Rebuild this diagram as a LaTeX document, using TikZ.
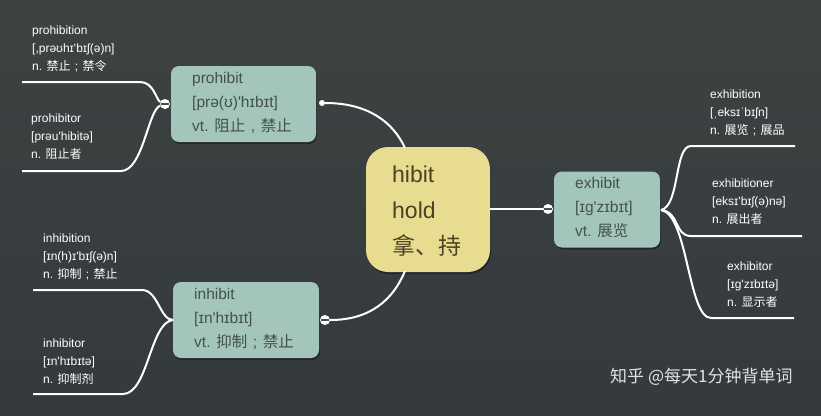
\documentclass[tikz,border=0pt]{standalone}
\usepackage{fontspec}
\setmainfont{Liberation Sans}[Ligatures=TeXOff]
\newfontfamily\cjk{Noto Sans CJK SC}
\usetikzlibrary{shadows}
\definecolor{bgtop}{HTML}{3D4342}
\definecolor{bgbot}{HTML}{34393D}
\definecolor{boxteal}{HTML}{A3C5BC}
\definecolor{boxtxt}{HTML}{44514D}
\definecolor{hubfill}{HTML}{E7DC8F}
\definecolor{hubtxt}{HTML}{4A4222}
\definecolor{knobbar}{HTML}{4A5050}
\newcommand\fsemi{\makebox[1em][c]{;}}
\newcommand\fcomma{\makebox[1em][c]{,}}
\tikzset{
  box/.style={fill=boxteal, draw=none, rounded corners=8pt, inner sep=0pt,
    drop shadow={shadow xshift=1pt, shadow yshift=-2pt, opacity=0.35, fill=black}},
  hub/.style={fill=hubfill, draw=none, rounded corners=22pt, inner sep=0pt,
    minimum width=124pt, minimum height=125pt,
    drop shadow={shadow xshift=1pt, shadow yshift=-2pt, opacity=0.35, fill=black}},
  boxtext/.style={anchor=west, align=left, inner sep=0pt, text=boxtxt,
    font=\fontsize{15.5}{24}\selectfont},
  hubtext/.style={anchor=west, align=left, inner sep=0pt, text=hubtxt,
    font=\fontsize{23}{36}\selectfont},
  leaf/.style={anchor=west, align=left, inner sep=0pt, text=white,
    font=\fontsize{12}{18}\selectfont},
  wire/.style={draw=white, line width=2pt},
  knob/.style={circle, fill=white, draw=none, inner sep=0pt, minimum size=10pt,
    path picture={\draw[knobbar, line width=1.2pt]
      ([xshift=1pt]path picture bounding box.west) -- ([xshift=-1pt]path picture bounding box.east);}},
  dot/.style={circle, fill=white, draw=none, inner sep=0pt, minimum size=6pt},
}
\begin{document}
\begin{tikzpicture}[x=1pt,y=-1pt]
\useasboundingbox (0,0) rectangle (821,415);
\shade[top color=bgtop, bottom color=bgbot] (0,0) rectangle (821,415);

% boxes
\node[box, minimum width=145pt, minimum height=76pt] (pro) at (243.5,104) {};
\node[box, minimum width=146pt, minimum height=76pt] (inh) at (246,320) {};
\node[box, minimum width=106pt, minimum height=76pt] (exh) at (607,209.5) {};
\node[hub] (hub) at (428,209.5) {};

% box texts
\node[boxtext] (protx) at (192,103) {prohibit\\{[}prə(ʊ)'hɪbɪt]\\vt. {\cjk 阻止}\fcomma{\cjk 禁止}};
\node[boxtext] (inhtx) at (194,319) {inhibit\\{[}ɪn'hɪbɪt]\\vt. {\cjk 抑制}\fsemi{\cjk 禁止}};
\node[boxtext] (exhtx) at (575,208) {exhibit\\{[}ɪg'zɪbɪt]\\vt. {\cjk 展览}};
\node[hubtext] (hubtx) at (392,211) {hibit\\hold\\{\cjk 拿、持}};

% knobs and dots
\node[dot] (prodot) at (322,103) {};
\node[knob] (proknob) at (165,104) {};
\node[knob] (inhknob) at (325,320) {};
\node[knob] (exhknob) at (548,209) {};
\coordinate (hubtop) at (405,148);
\coordinate (hubbot) at (405,271);
\coordinate (hubright) at (490,209);
\coordinate (inhleft) at (173,320);
\coordinate (exhright) at (661,210);

% hub connectors
\draw[wire] (prodot) .. controls (368,103) and (393,122) .. (hubtop);
\draw[wire] (hubbot) .. controls (393,300) and (370,320) .. (inhknob);
\draw[wire] (hubright) -- (exhknob);

% leaf ends
\coordinate (p1) at (22,82);  \coordinate (p1b) at (140,82);
\coordinate (p2) at (22,171); \coordinate (p2b) at (121,171);
\coordinate (i1) at (33,290); \coordinate (i1b) at (142,290);
\coordinate (i2) at (33,394); \coordinate (i2b) at (123,394);
\coordinate (e1) at (795,146); \coordinate (e1b) at (691,146);
\coordinate (e2) at (802,236); \coordinate (e2b) at (691,236);
\coordinate (e3) at (794,318); \coordinate (e3b) at (711,318);

\draw[wire] (p1) -- (p1b) .. controls (154,82) and (156,100) .. (proknob);
\draw[wire] (p2) -- (p2b) .. controls (143,171) and (148,110) .. (proknob);
\draw[wire] (i1) -- (i1b) .. controls (158,290) and (160,320) .. (inhleft);
\draw[wire] (i2) -- (i2b) .. controls (148,394) and (150,322) .. (inhleft);
\draw[wire] (exhright) .. controls (680,206) and (674,146) .. (e1b) -- (e1);
\draw[wire] (exhright) .. controls (680,212) and (674,236) .. (e2b) -- (e2);
\draw[wire] (exhright) .. controls (688,214) and (688,318) .. (e3b) -- (e3);

% leaf texts
\node[leaf] (l1) at (32,49) {prohibition\\{[},prəʊhɪ'bɪʃ(ə)n]\\n. {\cjk 禁止}\fsemi{\cjk 禁令}};
\node[leaf] (l2) at (31,137) {prohibitor\\{[}prəu'hibitə]\\n. {\cjk 阻止者}};
\node[leaf] (l3) at (43,257) {inhibition\\{[}ɪn(h)ɪ'bɪʃ(ə)n]\\n. {\cjk 抑制}\fsemi{\cjk 禁止}};
\node[leaf] (l4) at (43,362) {inhibitor\\{[}ɪn'hɪbɪtə]\\n. {\cjk 抑制剂}};
\node[leaf] (l5) at (710,113) {exhibition\\{[}ˌeksɪˈbɪʃn]\\n. {\cjk 展览}\fsemi{\cjk 展品}};
\node[leaf] (l6) at (712,202) {exhibitioner\\{[}eksɪ'bɪʃ(ə)nə]\\n. {\cjk 展出者}};
\node[leaf] (l7) at (727,285) {exhibitor\\{[}ɪg'zɪbɪtə]\\n. {\cjk 显示者}};

% watermark
\node[anchor=west, inner sep=0pt, text=white, opacity=0.85,
  font=\fontsize{17}{20}\selectfont] (wm) at (610,377) {{\cjk 知乎 @每天1分钟背单词}};
\end{tikzpicture}
\end{document}
